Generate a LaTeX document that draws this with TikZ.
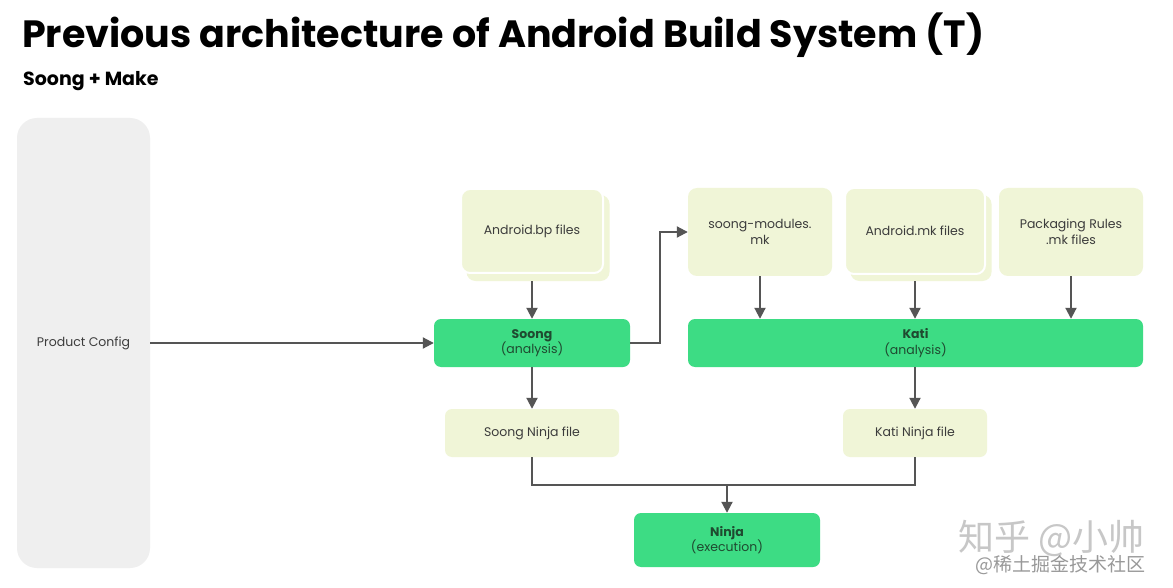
\documentclass[tikz,border=0pt]{standalone}
\usepackage{fontspec}
\setmainfont{Poppins}
\newfontfamily\cjk{Noto Sans CJK SC}
\usetikzlibrary{arrows.meta}
\definecolor{droidgreen}{HTML}{3DDC84}
\definecolor{filefill}{HTML}{F0F5D7}
\definecolor{cfgfill}{HTML}{EFEFEF}
\definecolor{linegray}{HTML}{555555}
\definecolor{txtgray}{HTML}{3C3C3C}
\definecolor{boldgreen}{HTML}{1F4A30}
\tikzset{
  filebox/.style={fill=filefill,rounded corners=9pt,inner sep=0pt,align=center,
    font=\fontsize{12.5}{15.5}\selectfont,text=txtgray},
  stackfront/.style={filebox,draw=white,line width=2pt},
  stepgreen/.style={fill=droidgreen,rounded corners=7pt,inner sep=0pt,align=center,
    font=\fontsize{12.5}{15.5}\selectfont,text=boldgreen},
  line/.style={draw=linegray,line width=2pt},
  arr/.style={line,-{Triangle[length=11pt,width=11pt]}}
}
\begin{document}
\begin{tikzpicture}[x=1pt,y=-1pt]
\useasboundingbox[fill=white] (0,0) rectangle (1173,588);
% titles
\node[anchor=base west,inner sep=0pt,font=\fontsize{38}{42}\bfseries] (title) at (22,48) {Previous architecture of Android Build System (T)};
\node[anchor=base west,inner sep=0pt,font=\fontsize{19}{22}\bfseries] (subtitle) at (23,86) {Soong + Make};
% product config
\node[fill=cfgfill,rounded corners=20pt,minimum width=133pt,minimum height=450pt,inner sep=0pt,
  font=\fontsize{12.5}{15.5}\selectfont,text=txtgray] (prod) at (83.5,343) {Product Config};
% input files
\node[filebox,minimum width=143pt,minimum height=86pt] (bpback) at (538,238) {};
\node[stackfront,minimum width=142pt,minimum height=84pt] (bp) at (532,231) {Android.bp files};
\node[filebox,minimum width=144pt,minimum height=88pt] (sm) at (760,232) {soong-modules.\\mk};
\node[filebox,minimum width=141pt,minimum height=86pt] (amkback) at (921,238) {};
\node[stackfront,minimum width=140pt,minimum height=86pt] (amk) at (915,231) {Android.mk files};
\node[filebox,minimum width=144pt,minimum height=88pt] (pkg) at (1071,232) {Packaging Rules\\.mk files};
% analysis
\node[stepgreen,minimum width=196pt,minimum height=48pt] (soong) at (532,343) {\textbf{Soong}\\(analysis)};
\node[stepgreen,minimum width=455pt,minimum height=48pt] (kati) at (915.5,343) {\textbf{Kati}\\(analysis)};
% ninja files
\node[filebox,rounded corners=7pt,minimum width=174pt,minimum height=48pt] (sninja) at (532,433) {Soong Ninja file};
\node[filebox,rounded corners=7pt,minimum width=144pt,minimum height=48pt] (kninja) at (915,433) {Kati Ninja file};
\node[stepgreen,minimum width=186pt,minimum height=54pt] (ninja) at (727,540) {\textbf{Ninja}\\(execution)};
\coordinate (join) at (727,485);
% connectors
\draw[arr] (prod) -- (soong);
\draw[arr] (soong.north |- bpback.south) -- (soong.north);
\draw[arr] (soong.east) -- ++(30,0) |- (sm.west);
\draw[arr] (sm.south) -- (sm.south |- kati.north);
\draw[arr] (amk.south |- amkback.south) -- (amk.south |- kati.north);
\draw[arr] (pkg.south) -- (pkg.south |- kati.north);
\draw[arr] (soong) -- (sninja);
\draw[arr] (kninja.north |- kati.south) -- (kninja.north);
\draw[line] (sninja.south) |- (join) -| (kninja.south);
\draw[arr] (join) -- (ninja.north);
% watermark
\node[anchor=base west,inner sep=0pt,text=black!22,font=\cjk\fontsize{36}{38}\selectfont] (wm1) at (958,550) {知乎 @小帅};
\node[anchor=base west,inner sep=0pt,text=black!40,font=\cjk\fontsize{19}{21}\selectfont] (wm2) at (975,571) {@稀土掘金技术社区};
\end{tikzpicture}
\end{document}
